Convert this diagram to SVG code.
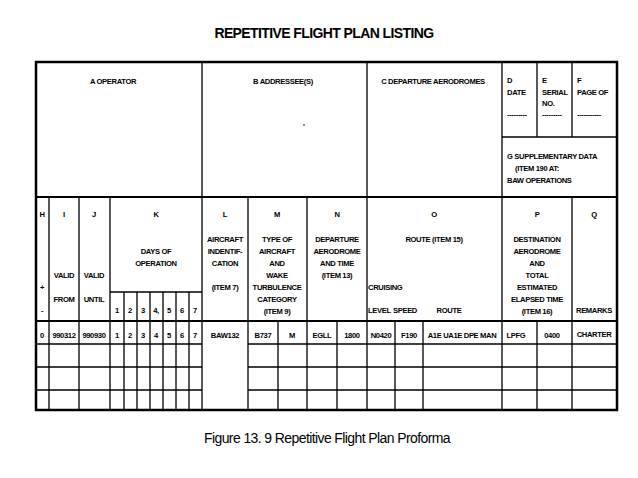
<svg xmlns="http://www.w3.org/2000/svg" width="638" height="478" viewBox="0 0 638 478">
<style>
text{font-family:"Liberation Sans Narrow","Liberation Sans",Arial,sans-serif;font-weight:bold;font-size:7.6px;letter-spacing:-0.35px;fill:#000}
.c{text-anchor:middle}
.t{font-size:14px;letter-spacing:-0.6px}
.cap{font-size:14px;font-weight:normal;letter-spacing:-0.6px}
line{stroke:#000;stroke-width:1.3}
</style>
<rect width="638" height="478" fill="#fff"/>
<text class="t c" x="324" y="38">REPETITIVE FLIGHT PLAN LISTING</text>
<g id="connectors">
<rect x="36" y="62" width="581" height="348" fill="none" stroke="#000" stroke-width="2.5"/>
<line x1="202" y1="62" x2="202" y2="410"/>
<line x1="367" y1="62" x2="367" y2="410"/>
<line x1="502" y1="62" x2="502" y2="410"/>
<line x1="537" y1="62" x2="537" y2="137"/>
<line x1="572" y1="62" x2="572" y2="137"/>
<line x1="502" y1="137" x2="617" y2="137"/>
<line x1="36" y1="197" x2="617" y2="197" style="stroke-width:1.8"/>
<line x1="49" y1="197" x2="49" y2="410"/>
<line x1="79" y1="197" x2="79" y2="410"/>
<line x1="110" y1="197" x2="110" y2="410"/>
<line x1="248" y1="197" x2="248" y2="410"/>
<line x1="307" y1="197" x2="307" y2="410"/>
<line x1="572" y1="197" x2="572" y2="410"/>
<line x1="110" y1="292" x2="202" y2="292"/>
<line x1="124" y1="292" x2="124" y2="410"/>
<line x1="137" y1="292" x2="137" y2="410"/>
<line x1="150" y1="292" x2="150" y2="410"/>
<line x1="163" y1="292" x2="163" y2="410"/>
<line x1="176" y1="292" x2="176" y2="410"/>
<line x1="189" y1="292" x2="189" y2="410"/>
<line x1="278" y1="321" x2="278" y2="410"/>
<line x1="337" y1="321" x2="337" y2="410"/>
<line x1="395" y1="321" x2="395" y2="410"/>
<line x1="423" y1="321" x2="423" y2="410"/>
<line x1="537" y1="321" x2="537" y2="410"/>
<line x1="36" y1="321" x2="617" y2="321" style="stroke-width:1.8"/>
<line x1="36" y1="344" x2="202" y2="344"/><line x1="248" y1="344" x2="617" y2="344"/>
<line x1="36" y1="367" x2="202" y2="367"/><line x1="248" y1="367" x2="617" y2="367"/>
<line x1="36" y1="390" x2="202" y2="390"/><line x1="248" y1="390" x2="617" y2="390"/>
</g>
<g id="A"><text class="c" x="113" y="84">A  OPERATOR</text></g>
<g id="B"><text class="c" x="283" y="84">B  ADDRESSEE(S)</text><circle cx="304" cy="125" r="0.8"/></g>
<g id="C"><text class="c" x="433" y="84">C  DEPARTURE AERODROMES</text></g>
<g id="D"><text x="507" y="83">D</text><text x="507" y="95">DATE</text><text x="507" y="117">---------</text></g>
<g id="E"><text x="542" y="83">E</text><text x="542" y="95">SERIAL</text><text x="542" y="106">NO.</text><text x="542" y="117">---------</text></g>
<g id="F"><text x="577" y="83">F</text><text x="577" y="95">PAGE OF</text><text x="577" y="117">-----------</text></g>
<g id="G"><text x="507" y="159">G  SUPPLEMENTARY DATA</text><text x="515" y="171">(ITEM 190 AT:</text><text x="507" y="183">BAW OPERATIONS</text></g>
<g id="H"><text class="c" x="42" y="217">H</text><text class="c" x="42" y="290">+</text><text class="c" x="42" y="313">-</text><text class="c" x="42" y="338">0</text></g>
<g id="I"><text class="c" x="64" y="278">VALID</text><text class="c" x="64" y="217">I</text><text class="c" x="64" y="302">FROM</text><text class="c" x="64" y="338">990312</text></g>
<g id="J"><text class="c" x="94" y="217">J</text><text class="c" x="94" y="278">VALID</text><text class="c" x="94" y="302">UNTIL</text><text class="c" x="94" y="338">990930</text></g>
<g id="K"><text class="c" x="156" y="217">K</text><text class="c" x="156" y="254">DAYS OF</text><text class="c" x="156" y="266">OPERATION</text>
<text class="c" x="117" y="313">1</text><text class="c" x="130" y="313">2</text><text class="c" x="143" y="313">3</text><text class="c" x="156" y="313">4,</text><text class="c" x="169" y="313">5</text><text class="c" x="182" y="313">6</text><text class="c" x="195" y="313">7</text>
<text class="c" x="117" y="338">1</text><text class="c" x="130" y="338">2</text><text class="c" x="143" y="338">3</text><text class="c" x="156" y="338">4</text><text class="c" x="169" y="338">5</text><text class="c" x="182" y="338">6</text><text class="c" x="195" y="338">7</text></g>
<g id="L"><text class="c" x="225" y="217">L</text><text class="c" x="225" y="242">AIRCRAFT</text><text class="c" x="225" y="254">INDENTIF-</text><text class="c" x="225" y="266">CATION</text><text class="c" x="225" y="290">(ITEM 7)</text><text class="c" x="225" y="338">BAW132</text></g>
<g id="M"><text class="c" x="277" y="217">M</text><text class="c" x="277" y="242">TYPE OF</text><text class="c" x="277" y="254">AIRCRAFT</text><text class="c" x="277" y="266">AND</text><text class="c" x="277" y="278">WAKE</text><text class="c" x="277" y="290">TURBULENCE</text><text class="c" x="277" y="302">CATEGORY</text><text class="c" x="277" y="314">(ITEM 9)</text><text class="c" x="263" y="338">B737</text><text class="c" x="292" y="338">M</text></g>
<g id="N"><text class="c" x="337" y="217">N</text><text class="c" x="337" y="242">DEPARTURE</text><text class="c" x="337" y="254">AERODROME</text><text class="c" x="337" y="266">AND TIME</text><text class="c" x="337" y="278">(ITEM 13)</text><text class="c" x="322" y="338">EGLL</text><text class="c" x="352" y="338">1800</text></g>
<g id="O"><text class="c" x="434" y="217">O</text><text class="c" x="434" y="242">ROUTE (ITEM 15)</text><text x="368" y="290">CRUISING</text><text x="368" y="313">LEVEL</text><text x="393" y="313">SPEED</text><text class="c" x="449" y="313">ROUTE</text>
<text class="c" x="381" y="338">N0420</text><text class="c" x="409" y="338">F190</text><text class="c" x="462" y="338">A1E UA1E DPE  MAN</text></g>
<g id="P"><text class="c" x="537" y="217">P</text><text class="c" x="537" y="242">DESTINATION</text><text class="c" x="537" y="254">AERODROME</text><text class="c" x="537" y="266">AND</text><text class="c" x="537" y="278">TOTAL</text><text class="c" x="537" y="290">ESTIMATED</text><text class="c" x="537" y="302">ELAPSED TIME</text><text class="c" x="537" y="314">(ITEM 16)</text><text class="c" x="516" y="338">LPFG</text><text class="c" x="552" y="338">0400</text></g>
<g id="Q"><text class="c" x="594" y="217">Q</text><text class="c" x="594" y="313">REMARKS</text><text class="c" x="594" y="337">CHARTER</text></g>
<text class="cap c" x="327" y="443">Figure 13. 9 Repetitive Flight Plan Proforma</text>
</svg>
